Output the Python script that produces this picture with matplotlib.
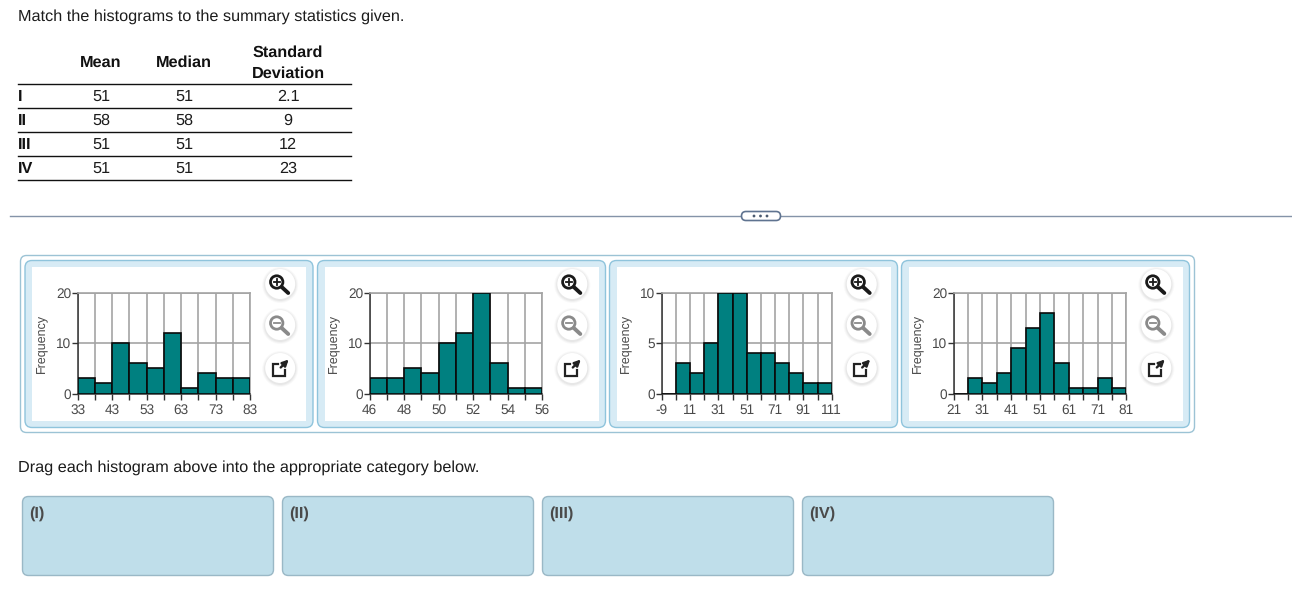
import matplotlib
matplotlib.use('Agg')
import matplotlib.pyplot as plt
from matplotlib.patches import FancyBboxPatch, Circle, Rectangle

plt.rcParams['font.family'] = ['Liberation Sans', 'DejaVu Sans']
plt.rcParams['axes.unicode_minus'] = False
plt.rcParams['text.hinting'] = 'no_hinting'
plt.rcParams['text.hinting_factor'] = 8

W, H = 1292, 613

# Summary table
row_names = ['I', 'II', 'III', 'IV']
means = ['51', '58', '51', '51']
medians = ['51', '58', '51', '51']
stds = ['2.1', '9', '12', '23']

# Histograms
edges_a = [33, 38, 43, 48, 53, 58, 63, 68, 73, 78, 83]
counts_a = [3, 2, 10, 6, 5, 12, 1, 4, 3, 3]
ticks_a = [33, 43, 53, 63, 73, 83]
yticks_a = [0, 10, 20]

edges_b = [46, 47, 48, 49, 50, 51, 52, 53, 54, 55, 56]
counts_b = [3, 3, 5, 4, 10, 12, 20, 6, 1, 1]
ticks_b = [46, 48, 50, 52, 54, 56]
yticks_b = [0, 10, 20]

edges_c = [-9, 1, 11, 21, 31, 41, 51, 61, 71, 81, 91, 101, 111]
counts_c = [0, 3, 2, 5, 10, 10, 4, 4, 3, 2, 1, 1]
ticks_c = [-9, 11, 31, 51, 71, 91, 111]
yticks_c = [0, 5, 10]

edges_d = [21, 26, 31, 36, 41, 46, 51, 56, 61, 66, 71, 76, 81]
counts_d = [0, 3, 2, 4, 9, 13, 16, 6, 1, 1, 3, 1]
ticks_d = [21, 31, 41, 51, 61, 71, 81]
yticks_d = [0, 10, 20]

drop_labels = ['(I)', '(II)', '(III)', '(IV)']

TEAL = '#008080'
TEXT = '#1c1c1c'
GRID = '#a4a4a4'
AXTXT = '#4a4a4a'
FS = 11.68


def box(bg, x0, y0, x1, y1, fc, ec, r=6, lw=1.0, z=1):
    p = FancyBboxPatch((x0 + r, y0 + r), x1 - x0 - 2 * r, y1 - y0 - 2 * r,
                       boxstyle=f'round,pad={r},rounding_size={r}',
                       fc=fc, ec=ec, lw=lw, zorder=z)
    bg.add_patch(p)


def draw_icon(bg, cx, cy, kind):
    # soft shadow, then white disc
    for rad, a in [(18, 0.025), (17, 0.03), (16, 0.04)]:
        bg.add_patch(Circle((cx, cy + 1), rad, fc='#000000', alpha=a, ec='none', zorder=3))
    bg.add_patch(Circle((cx, cy), 15, fc='white', ec='none', zorder=4))
    if kind == 'out':
        bg.plot([cx + 4.5, cx + 4.5, cx - 7.5, cx - 7.5, cx - 2], [cy + 2, cy + 7.5, cy + 7.5, cy - 4.5, cy - 4.5],
                color='#222222', lw=1.6, solid_joinstyle='miter', zorder=5)
        bg.annotate('', xy=(cx + 8.5, cy - 8.5), xytext=(cx + 0.5, cy - 0.5), zorder=6,
                    arrowprops=dict(arrowstyle='-|>', color='#222222', lw=1.7, mutation_scale=9,
                                    shrinkA=0, shrinkB=0))
        return
    col = '#1a1a1a' if kind == 'plus' else '#8a8a8a'
    bg.add_patch(Circle((cx - 3.5, cy - 2), 6.2, fc='none', ec=col, lw=2.0, zorder=5))
    bg.plot([cx + 1.5, cx + 8], [cy + 3, cy + 9], color=col, lw=2.8, solid_capstyle='round', zorder=5)
    bg.plot([cx - 6.5, cx - 0.5], [cy - 2, cy - 2], color=col, lw=1.3, zorder=5)
    if kind == 'plus':
        bg.plot([cx - 3.5, cx - 3.5], [cy - 5, cy + 1], color=col, lw=1.3, zorder=5)


def draw_hist(fig, px0, px1, edges, counts, ticks, yticks):
    py0, py1 = 292.5, 393.5
    ax = fig.add_axes([px0 / W, 1 - py1 / H, (px1 - px0) / W, (py1 - py0) / H], zorder=5)
    ax.patch.set_alpha(0)
    ax.bar(edges[:-1], counts, width=[b - a for a, b in zip(edges, edges[1:])], align='edge',
           color=TEAL, edgecolor='#0a0a0a', linewidth=1.2, zorder=3)
    ax.set_xlim(edges[0], edges[-1])
    ax.set_ylim(yticks[0], yticks[-1])
    ax.set_xticks(edges, minor=True)
    ax.set_xticks(ticks)
    ax.set_yticks(yticks)
    ax.grid(True, which='both', axis='x', color=GRID, lw=1.2, zorder=1)
    ax.grid(True, which='major', axis='y', color=GRID, lw=1.2, zorder=1)
    ax.set_axisbelow(True)
    for s in ['top', 'right']:
        ax.spines[s].set_color(GRID)
        ax.spines[s].set_linewidth(1.2)
    for s in ['left', 'bottom']:
        ax.spines[s].set_color('#333333')
        ax.spines[s].set_linewidth(1.1)
    ax.tick_params(axis='both', which='major', length=4, width=1, color='#333333',
                   labelsize=9.8, labelcolor=AXTXT, pad=3.5)
    ax.tick_params(axis='y', which='major', length=4.5, pad=0)
    ax.tick_params(axis='x', which='minor', length=4, width=1, color='#333333')
    ax.set_ylabel('Frequency', fontsize=9, color=AXTXT)
    ax.yaxis.set_label_coords(-30 / (px1 - px0), 0.5)


fig = plt.figure(figsize=(W / 100, H / 100), dpi=100, facecolor='white')
bg = fig.add_axes([0, 0, 1, 1], zorder=0)
bg.set_xlim(0, W)
bg.set_ylim(H, 0)
bg.axis('off')

bg.text(18, 16.5, 'Match the histograms to the summary statistics given.', fontsize=FS,
        color=TEXT, va='center')

# table
col_x = [101, 184, 288]
bg.text(col_x[0], 62.5, 'Mean', fontsize=FS, fontweight='bold', ha='center', va='center', color='#111111')
bg.text(col_x[1], 62.5, 'Median', fontsize=FS, fontweight='bold', ha='center', va='center', color='#111111')
bg.text(col_x[2], 52.5, 'Standard', fontsize=FS, fontweight='bold', ha='center', va='center', color='#111111')
bg.text(col_x[2], 73.5, 'Deviation', fontsize=FS, fontweight='bold', ha='center', va='center', color='#111111')
row_y = [96.5, 120.5, 144.5, 168.5]
for y in [84, 108, 132, 156, 180]:
    bg.plot([18, 351], [y, y], color='#111111', lw=1, zorder=2)
for y, name, a, b, c in zip(row_y, row_names, means, medians, stds):
    bg.text(18, y, name, fontsize=FS, fontweight='bold', va='center', color='#111111')
    for x, s in zip(col_x, [a, b, c]):
        bg.text(x, y, s, fontsize=FS, ha='center', va='center', color=TEXT)

# divider with the ellipsis pill
bg.plot([10, 1292], [216, 216], color='#8493a8', lw=1, zorder=1)
box(bg, 741.5, 211.5, 780.5, 220.5, 'white', '#5f7390', r=4.5, lw=1.2, z=2)
for x in [754, 760.5, 767]:
    bg.add_patch(Circle((x, 216), 1.4, fc='#4a5a70', ec='none', zorder=3))

# histogram cards
box(bg, 20.5, 255.5, 1194.5, 432.5, 'white', '#9cc3d5', r=6, lw=1.0, z=1)
cards = [(25, 313), (317.5, 605.5), (609.5, 897.5), (901.5, 1189.5)]
plot_x = [(77.7, 250.2), (369.5, 542.3), (661.7, 831.7), (953.7, 1126.3)]
hists = [(edges_a, counts_a, ticks_a, yticks_a), (edges_b, counts_b, ticks_b, yticks_b),
         (edges_c, counts_c, ticks_c, yticks_c), (edges_d, counts_d, ticks_d, yticks_d)]
for (x0, x1), (px0, px1), (edges, counts, ticks, yticks) in zip(cards, plot_x, hists):
    box(bg, x0, 260.5, x1, 427.5, '#d7ebf5', '#8fc4dc', r=7, lw=1.0, z=2)
    bg.add_patch(Rectangle((x0 + 7, 267), x1 - x0 - 14, 154, fc='white', ec='none', zorder=2.5))
    draw_hist(fig, px0, px1, edges, counts, ticks, yticks)
    icon_x = px1 + 30
    draw_icon(bg, icon_x, 284, 'plus')
    draw_icon(bg, icon_x, 325, 'minus')
    draw_icon(bg, icon_x, 368, 'out')

bg.text(18, 467.5, 'Drag each histogram above into the appropriate category below.', fontsize=FS,
        color=TEXT, va='center')

# drop zones
zones = [(22.5, 273.5), (282.5, 533.5), (542.5, 793.5), (802.5, 1053.5)]
for (x0, x1), lab in zip(zones, drop_labels):
    box(bg, x0, 496.5, x1, 575.5, '#bfdeea', '#9ab8c6', r=6, lw=1.0, z=1)
    bg.text(x0 + 7, 514, lab, fontsize=FS, fontweight='bold', va='center', color='#4a4a4a', zorder=2)

fig.savefig('out.png', dpi=100, facecolor='white')
